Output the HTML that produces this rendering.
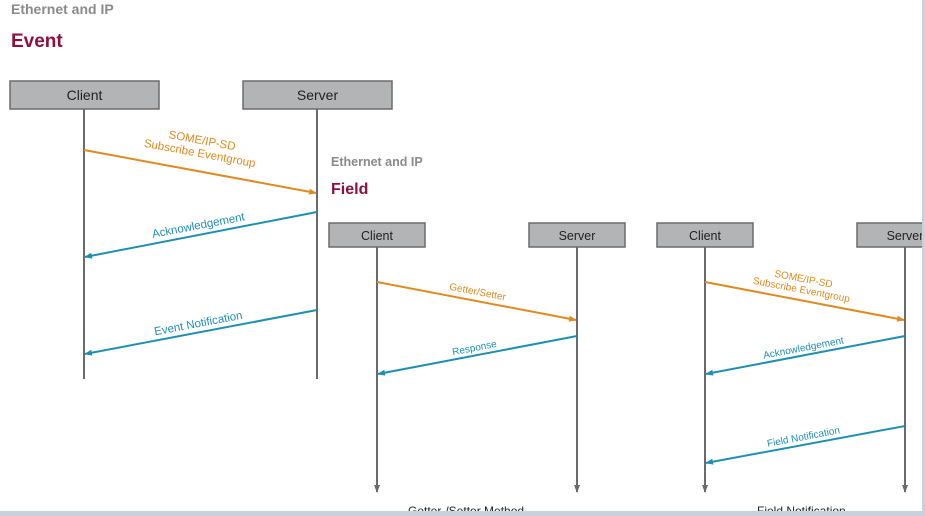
<!DOCTYPE html>
<html><head><meta charset="utf-8"><style>
html,body{margin:0;padding:0;background:#fff;width:925px;height:516px;overflow:hidden}
svg{display:block}
text{font-family:"Liberation Sans","DejaVu Sans",sans-serif}
</style></head><body>
<svg width="925" height="516" viewBox="0 0 925 516" xmlns="http://www.w3.org/2000/svg">
<defs>
<marker id="ao" markerWidth="8" markerHeight="8" refX="7" refY="4" orient="auto" markerUnits="userSpaceOnUse"><path d="M0,1 L8,4 L0,7 z" fill="#e08a1e"/></marker>
<marker id="at" markerWidth="8" markerHeight="8" refX="7" refY="4" orient="auto" markerUnits="userSpaceOnUse"><path d="M0,1 L8,4 L0,7 z" fill="#1f8fb0"/></marker>
<marker id="ag" markerWidth="8" markerHeight="8" refX="7" refY="4" orient="auto" markerUnits="userSpaceOnUse"><path d="M0,1 L8,4 L0,7 z" fill="#6a6a6a"/></marker>
</defs>
<rect x="0" y="0" width="925" height="516" fill="#fff"/>
<!-- Event -->
<text x="11" y="14" font-size="14" font-weight="bold" fill="#8a8a8a">Ethernet and IP</text>
<text x="11" y="47" font-size="19" font-weight="bold" fill="#8e1040">Event</text>
<rect x="10" y="81" width="149" height="28" fill="#b3b4b6" stroke="#6b6b6b" stroke-width="1.5"/>
<text x="84.5" y="100" font-size="14" text-anchor="middle" fill="#222">Client</text>
<rect x="243" y="81" width="149" height="28" fill="#b3b4b6" stroke="#6b6b6b" stroke-width="1.5"/>
<text x="317.5" y="100" font-size="14" text-anchor="middle" fill="#222">Server</text>
<line x1="84" y1="109" x2="84" y2="379" stroke="#6a6a6a" stroke-width="2"/>
<line x1="317" y1="109" x2="317" y2="379" stroke="#6a6a6a" stroke-width="2"/>
<line x1="84" y1="150" x2="316" y2="193" stroke="#e08a1e" stroke-width="2" marker-end="url(#ao)"/>
<g transform="translate(200,152) rotate(10.5)" fill="#e08a1e" font-size="11.5" text-anchor="middle"><text x="0" y="-8">SOME/IP-SD</text><text x="0" y="5">Subscribe Eventgroup</text></g>
<line x1="317" y1="212" x2="85" y2="257" stroke="#1f8fb0" stroke-width="2" marker-end="url(#at)"/>
<text transform="translate(199,229) rotate(-10.8)" font-size="11.5" text-anchor="middle" fill="#1f8fb0">Acknowledgement</text>
<line x1="317" y1="310" x2="85" y2="354" stroke="#1f8fb0" stroke-width="2" marker-end="url(#at)"/>
<text transform="translate(199,327) rotate(-10.8)" font-size="11.5" text-anchor="middle" fill="#1f8fb0">Event Notification</text>
<!-- Field -->
<text x="331" y="166" font-size="12.5" font-weight="bold" fill="#8a8a8a">Ethernet and IP</text>
<text x="331" y="194" font-size="16" font-weight="bold" fill="#8e1040">Field</text>
<g font-size="12.5" text-anchor="middle" fill="#222">
<rect x="329" y="223" width="96" height="24" fill="#b3b4b6" stroke="#6b6b6b" stroke-width="1.5"/><text x="377" y="240">Client</text>
<rect x="529" y="223" width="96" height="24" fill="#b3b4b6" stroke="#6b6b6b" stroke-width="1.5"/><text x="577" y="240">Server</text>
<rect x="657" y="223" width="96" height="24" fill="#b3b4b6" stroke="#6b6b6b" stroke-width="1.5"/><text x="705" y="240">Client</text>
<rect x="857" y="223" width="96" height="24" fill="#b3b4b6" stroke="#6b6b6b" stroke-width="1.5"/><text x="905" y="240">Server</text>
</g>
<g stroke="#6a6a6a" stroke-width="2" marker-end="url(#ag)">
<line x1="377" y1="247" x2="377" y2="492"/>
<line x1="577" y1="247" x2="577" y2="492"/>
<line x1="705" y1="247" x2="705" y2="492"/>
<line x1="905" y1="247" x2="905" y2="492"/>
</g>
<line x1="377" y1="282" x2="576" y2="320" stroke="#e08a1e" stroke-width="2" marker-end="url(#ao)"/>
<text transform="translate(477,295) rotate(10.8)" font-size="10" text-anchor="middle" fill="#e08a1e">Getter/Setter</text>
<line x1="577" y1="336" x2="378" y2="374" stroke="#1f8fb0" stroke-width="2" marker-end="url(#at)"/>
<text transform="translate(475,351) rotate(-10.8)" font-size="10" text-anchor="middle" fill="#1f8fb0">Response</text>
<line x1="705" y1="282" x2="904" y2="320" stroke="#e08a1e" stroke-width="2" marker-end="url(#ao)"/>
<g transform="translate(802,287) rotate(10.8)" fill="#e08a1e" font-size="10" text-anchor="middle"><text x="0" y="-5">SOME/IP-SD</text><text x="0" y="6">Subscribe Eventgroup</text></g>
<line x1="905" y1="336" x2="706" y2="374" stroke="#1f8fb0" stroke-width="2" marker-end="url(#at)"/>
<text transform="translate(804,351) rotate(-10.8)" font-size="10" text-anchor="middle" fill="#1f8fb0">Acknowledgement</text>
<line x1="905" y1="426" x2="706" y2="463" stroke="#1f8fb0" stroke-width="2" marker-end="url(#at)"/>
<text transform="translate(804,440) rotate(-10.8)" font-size="10" text-anchor="middle" fill="#1f8fb0">Field Notification</text>
<text x="408" y="515" font-size="12" fill="#222">Getter-/Setter Method</text>
<text x="757" y="515" font-size="12" fill="#222">Field Notification</text>
<rect x="0" y="511" width="925" height="5" fill="#c9d1dd"/>
<rect x="922" y="0" width="3" height="516" fill="#c9d1dd"/>
</svg>
</body></html>
